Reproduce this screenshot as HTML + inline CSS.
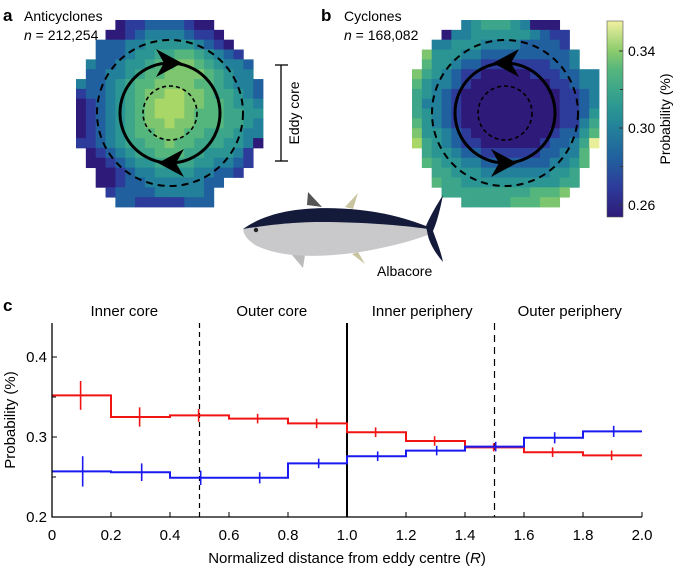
<!DOCTYPE html>
<html><head><meta charset="utf-8"><style>
body{margin:0;background:#fff;width:685px;height:568px;overflow:hidden;font-family:"Liberation Sans",sans-serif}
svg text{font-family:"Liberation Sans",sans-serif}
</style></head><body>
<svg id="fig" width="685" height="568" viewBox="0 0 685 568">
<defs><linearGradient id="cb" x1="0" y1="1" x2="0" y2="0">
<stop offset="0" stop-color="#2e1a78"/><stop offset="0.15" stop-color="#2d3b9a"/><stop offset="0.3" stop-color="#21609e"/><stop offset="0.45" stop-color="#22809a"/><stop offset="0.55" stop-color="#2a9593"/><stop offset="0.65" stop-color="#3da68a"/><stop offset="0.75" stop-color="#55b67d"/><stop offset="0.85" stop-color="#8ccc6c"/><stop offset="1" stop-color="#f3f0a0"/></linearGradient></defs>
<g id="heatA"></g>
<g id="heatB"></g>
<g id="overlay"></g>
<text x="3" y="21" font-size="17" font-weight="bold">a</text>
<text x="24" y="21" font-size="14">Anticyclones</text>
<text x="24" y="40" font-size="14"><tspan font-style="italic">n</tspan> = 212,254</text>
<text x="321" y="21" font-size="17" font-weight="bold">b</text>
<text x="344" y="21" font-size="14">Cyclones</text>
<text x="344" y="40" font-size="14"><tspan font-style="italic">n</tspan> = 168,082</text>
<g stroke="#000" stroke-width="1.3">
<line x1="281" y1="65" x2="281" y2="161"/><line x1="275" y1="65" x2="288" y2="65"/><line x1="275" y1="161" x2="288" y2="161"/></g>
<text transform="translate(299,113) rotate(-90)" text-anchor="middle" font-size="14">Eddy core</text>
<rect x="607" y="21" width="16" height="196" fill="url(#cb)" stroke="#555" stroke-width="0.6"/>
<g id="cbticks"></g>
<text transform="translate(670,119) rotate(-90)" text-anchor="middle" font-size="14">Probability (%)</text>
<g>
<path d="M307,205 L308,192 L322,207 Z" fill="#555"/>
<path d="M345,207 L358,193 L353,209 Z" fill="#c8c4a0"/>
<path d="M292,255 L303,268 L305,255 Z" fill="#bbb"/>
<path d="M352,254 L365,264 L358,252 Z" fill="#c8c4a0"/>
<path d="M243,229 C270,210 310,205 360,210 C395,214 415,222 426,226 L430,234 C415,240 395,246 360,252 C320,258 280,258 255,245 C248,240 244,236 243,229 Z" fill="#c9c9cc"/>
<path d="M243,229 C270,210 310,205 360,210 C395,214 415,222 426,226 L428,229 C400,225 360,222 320,222 C290,222 262,226 243,229 Z" fill="#141b3a"/>
<path d="M426,226 C432,212 440,200 443,195 C440,210 437,222 433,231 C437,242 441,252 443,262 C436,254 430,244 428,236 Z" fill="#141b3a"/>
<circle cx="256" cy="230" r="2.2" fill="#222"/>
</g>
<text x="377" y="276" font-size="14">Albacore</text>
<text x="3" y="311" font-size="17" font-weight="bold">c</text>
<g id="chart"></g>
</svg>
<script>
const NS="http://www.w3.org/2000/svg";
function mk(p,t,a){const e=document.createElementNS(NS,t);for(const k in a)e.setAttribute(k,a[k]);p.appendChild(e);return e;}
const anticycloneRows=[
"....0112222100.....",
"...001233332110....",
"..22233444443210...",
"..222344556654321..",
".32234456677654332.",
".22334566777765433.",
"3223456677776654332",
"1223456778877655432",
"0123456788877665443",
"0123456788876665544",
"0123456778776665543",
"0123456677766555433",
"1123455667665554430",
".01234556665544431.",
".00123445555443321.",
"..001233444433221..",
"..0012233333322....",
"...12222333332.....",
"....2211111222....."];
const cycloneRows=[
".....3455543000....",
"...0334444443211...",
"..33444333322221...",
".7444332222222223..",
".6443221111111223..",
"7543211000001112233",
"6433210000000011233",
"5432100000000001123",
"5332100000000001123",
"5432100000000001124",
"6432100000000001135",
"7443210000000012246",
"8543211000000122359",
".54432211111122336.",
".65443322222223346.",
"..554443333333445..",
"..655444444444455..",
"...5555555556667...",
".....5555566677...."];
const levelColors=["#2e1a78","#2d3b9a","#21609e","#22809a","#2a9593","#3da68a","#55b67d","#7dc66f","#a8d767","#e8ee9a"];
function heat(g,rows,x0,y0){const cs=187/19;
rows.forEach((r,i)=>{for(let j=0;j<r.length;j++){const c=r[j];if(c==='.')continue;
const rc=mk(g,'rect',{x:x0+j*cs,y:y0+i*cs,width:cs+0.4,height:cs+0.4,fill:levelColors[+c]});

}});}
heat(document.getElementById('heatA'),anticycloneRows,76,20);
heat(document.getElementById('heatB'),cycloneRows,412,20);
const ov=document.getElementById('overlay');
function eddy(cx,cy,clockwise){
mk(ov,'circle',{cx:cx,cy:cy,r:73,fill:'none',stroke:'#000','stroke-width':2,'stroke-dasharray':'7 5'});
mk(ov,'circle',{cx:cx,cy:cy,r:27,fill:'none',stroke:'#000','stroke-width':1.6,'stroke-dasharray':'4 3'});
mk(ov,'circle',{cx:cx,cy:cy,r:50,fill:'none',stroke:'#000','stroke-width':3});
const s=clockwise?1:-1;
mk(ov,'path',{d:`M${cx+s*12},${cy-50} L${cx-s*14},${cy-64} L${cx-s*6},${cy-50} L${cx-s*14},${cy-36} Z`,fill:'#000'});
mk(ov,'path',{d:`M${cx-s*12},${cy+50} L${cx+s*14},${cy+36} L${cx+s*6},${cy+50} L${cx+s*14},${cy+64} Z`,fill:'#000'});}
eddy(170,113,true);eddy(505,113,false);
const cbTicks=[0.26,0.30,0.34];
const cbg=document.getElementById('cbticks');
const cbY=v=>128-(v-0.30)/0.04*77;
cbTicks.forEach(v=>{mk(cbg,'line',{x1:619,x2:623,y1:cbY(v),y2:cbY(v),stroke:'#333'});
const t=mk(cbg,'text',{x:628,y:cbY(v)+5,'font-size':14});t.textContent=v.toFixed(2);});
[0.28,0.32].forEach(v=>mk(cbg,'line',{x1:620,x2:623,y1:cbY(v),y2:cbY(v),stroke:'#333'}));

const binEdges=[0,0.2,0.4,0.6,0.8,1.0,1.2,1.4,1.6,1.8,2.0];
const anticycloneProb=[0.352,0.325,0.327,0.323,0.317,0.306,0.295,0.287,0.281,0.277];
const anticycloneErr=[0.018,0.012,0.008,0.006,0.006,0.006,0.006,0.005,0.006,0.006];
const cycloneProb=[0.257,0.256,0.249,0.249,0.267,0.276,0.283,0.288,0.299,0.307];
const cycloneErr=[0.019,0.011,0.009,0.007,0.006,0.006,0.006,0.006,0.007,0.007];
const xTicks=[0,0.2,0.4,0.6,0.8,1.0,1.2,1.4,1.6,1.8,2.0];
const yTicks=[0.2,0.3,0.4];
const yMinor=[0.25,0.35];
const regions=["Inner core","Outer core","Inner periphery","Outer periphery"];
const regionCentres=[0.245,0.745,1.255,1.755];

const X=v=>52+v/2*590, Y=v=>517-(v-0.2)*800;
const ch=document.getElementById('chart');
const topY=323;
let e;
e=mk(ch,'line',{x1:X(0.5),x2:X(0.5),y1:topY,y2:517,stroke:'#000','stroke-width':1.2,'stroke-dasharray':'5 4'});

e=mk(ch,'line',{x1:X(1.5),x2:X(1.5),y1:topY,y2:517,stroke:'#000','stroke-width':1.2,'stroke-dasharray':'7 5'});

e=mk(ch,'line',{x1:X(1),x2:X(1),y1:topY,y2:517,stroke:'#000','stroke-width':2});

function series(vals,errs,col,name,off){
let d='';vals.forEach((v,i)=>{d+=(i?'L':'M')+X(binEdges[i])+','+Y(v)+'L'+X(binEdges[i+1])+','+Y(v);});
const p=mk(ch,'path',{d:d,fill:'none',stroke:col,'stroke-width':2});


vals.forEach((v,i)=>{const xc=X((binEdges[i]+binEdges[i+1])/2+off);
const b=mk(ch,'line',{x1:xc,x2:xc,y1:Y(v-errs[i]),y2:Y(v+errs[i]),stroke:col,'stroke-width':1.6});

});}
series(anticycloneProb,anticycloneErr,'#f01414','anticyclone',-0.003);
series(cycloneProb,cycloneErr,'#1a1af0','cyclone',0.004);
e=mk(ch,'path',{d:`M${X(0)},${topY} L${X(0)},517 L${X(2)},517`,fill:'none',stroke:'#000','stroke-width':1.3});

xTicks.forEach(v=>{mk(ch,'line',{x1:X(v),x2:X(v),y1:517,y2:512,stroke:'#000'});
const t=mk(ch,'text',{x:X(v),y:540,'text-anchor':'middle','font-size':15});t.textContent=(v===0?'0':v.toFixed(1));
});
yTicks.forEach(v=>{mk(ch,'line',{x1:X(0),x2:X(0)+5,y1:Y(v),y2:Y(v),stroke:'#000'});
const t=mk(ch,'text',{x:47,y:Y(v)+5,'text-anchor':'end','font-size':15});t.textContent=v.toFixed(1);
});
yMinor.forEach(v=>mk(ch,'line',{x1:X(0),x2:X(0)+4,y1:Y(v),y2:Y(v),stroke:'#000'}));
regions.forEach((r,i)=>{const t=mk(ch,'text',{x:X(regionCentres[i]),y:316,'text-anchor':'middle','font-size':15});t.textContent=r;
});
e=mk(ch,'text',{x:X(1),y:563,'text-anchor':'middle','font-size':15});
e.innerHTML='Normalized distance from eddy centre (<tspan font-style="italic">R</tspan>)';

e=mk(ch,'text',{transform:'translate(15,420) rotate(-90)','text-anchor':'middle','font-size':15});e.textContent='Probability (%)';

</script>
</body></html>
